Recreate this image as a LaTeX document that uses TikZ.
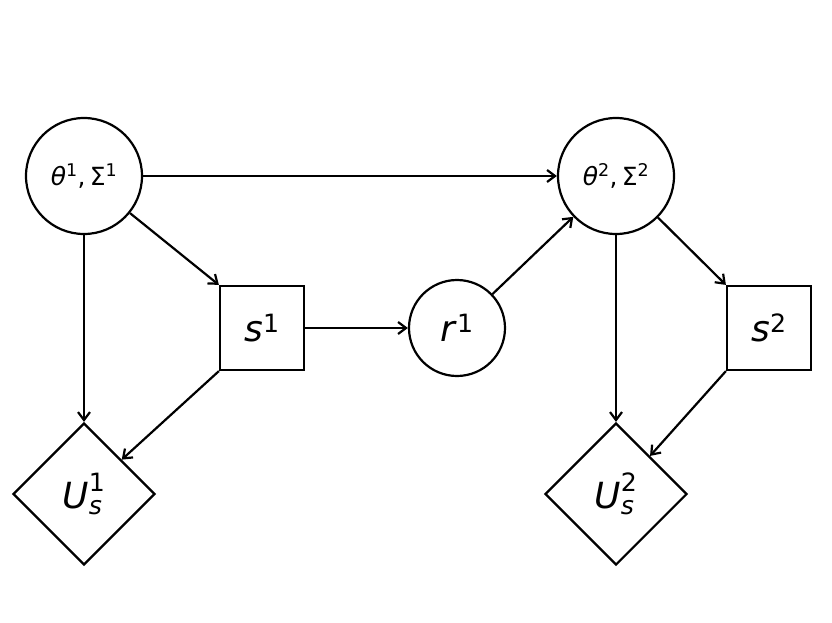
\documentclass[tikz,border=0pt]{standalone}
\usepackage{amsmath}
\usepackage{fontspec}
\setmainfont{DejaVu Sans}
\usetikzlibrary{shapes.geometric,arrows.meta}
\begin{document}
\begin{tikzpicture}[x=1pt,y=-1pt,line width=2.2pt,
  circ/.style={circle,draw,inner sep=0pt,minimum size=#1},
  sq/.style={rectangle,draw,inner sep=0pt,minimum size=84pt,font=\fontsize{36}{38}\selectfont},
  dia/.style={diamond,draw,inner sep=0pt,minimum size=142pt,aspect=1,font=\fontsize{36}{38}\selectfont},
  arr/.style={-{Straight Barb[length=8pt,width=12pt]},line width=2.2pt}]
\useasboundingbox (0,0) rectangle (832,623);
\node[circ=116pt,font=\fontsize{25}{27}\selectfont] (c1) at (84,176) {\textit{θ}$^{\text{1}}$,\,Σ$^{\text{1}}$};
\node[circ=116pt,font=\fontsize{25}{27}\selectfont] (c2) at (616,176) {\textit{θ}$^{\text{2}}$,\,Σ$^{\text{2}}$};
\node[sq] (s1) at (262,328) {\textit{s}$^{\text{1}}$};
\node[sq] (s2) at (769,328) {\textit{s}$^{\text{2}}$};
\node[circ=96pt,font=\fontsize{36}{38}\selectfont] (r1) at (457,328) {\textit{r}$^{\text{1}}$};
\node[dia] (u1) at (84,494) {$\text{\textit{U}}_{\text{\textit{s}}}^{\text{1}}$};
\node[dia] (u2) at (616,494) {$\text{\textit{U}}_{\text{\textit{s}}}^{\text{2}}$};
\draw[arr] (c1) -- (c2);
\draw[arr] (c1) -- (s1.north west);
\draw[arr] (c1) -- (u1);
\draw[arr] (s1.south west) -- (u1);
\draw[arr] (s1) -- (r1);
\draw[arr] (r1) -- (c2);
\draw[arr] (c2) -- (s2.north west);
\draw[arr] (c2) -- (u2);
\draw[arr] (s2.south west) -- (u2);
\end{tikzpicture}
\end{document}
